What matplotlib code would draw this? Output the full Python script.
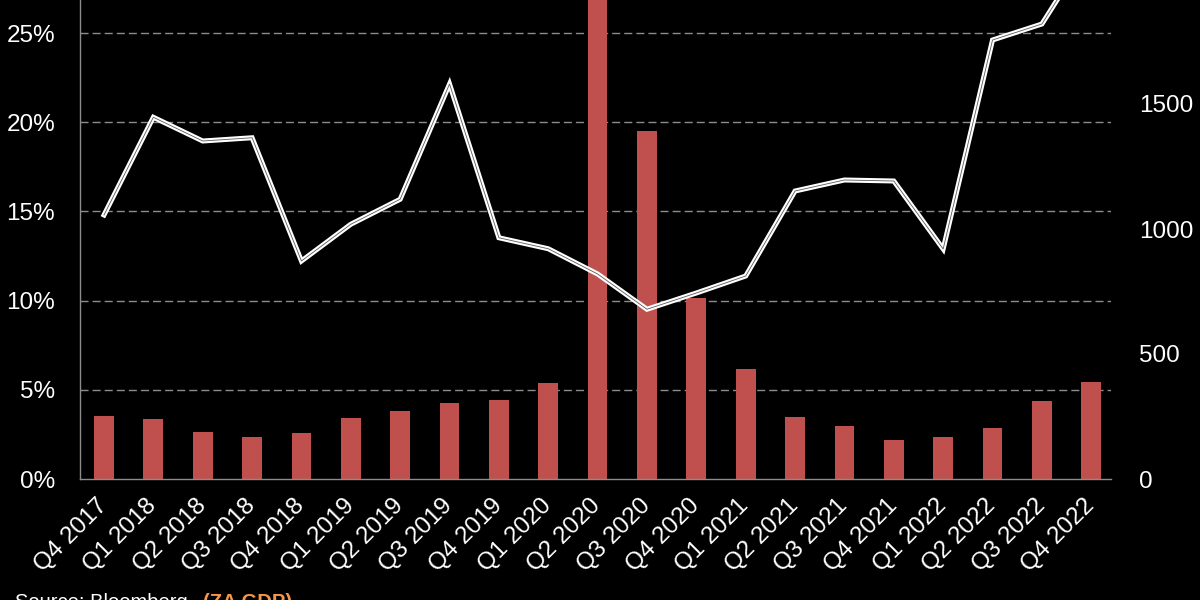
import matplotlib
matplotlib.use("Agg")
import matplotlib.pyplot as plt
import matplotlib.transforms as mtransforms
from matplotlib.ticker import FixedLocator, FuncFormatter

# ---- data ----
quarters = ["Q4 2017", "Q1 2018", "Q2 2018", "Q3 2018", "Q4 2018",
            "Q1 2019", "Q2 2019", "Q3 2019", "Q4 2019", "Q1 2020",
            "Q2 2020", "Q3 2020", "Q4 2020", "Q1 2021", "Q2 2021",
            "Q3 2021", "Q4 2021", "Q1 2022", "Q2 2022", "Q3 2022",
            "Q4 2022"]
bar_pct = [3.53, 3.36, 2.63, 2.35, 2.60, 3.40, 3.81, 4.26, 4.43, 5.40,
           30.0, 19.5, 10.15, 6.15, 3.46, 2.99, 2.19, 2.34, 2.86, 4.37,
           5.42]
line_vals = [1056, 1447, 1352, 1365, 872, 1019, 1119, 1580, 965, 921,
             820, 679, 744, 812, 1152, 1196, 1192, 920, 1756, 1820,
             2132]
left_ticks = [0, 5, 10, 15, 20, 25]
right_ticks = [0, 500, 1000, 1500]

FONT = "Liberation Sans"
plt.rcParams["font.family"] = [FONT, "DejaVu Sans"]

fig = plt.figure(figsize=(12, 6), dpi=100, facecolor="black")
ax = fig.add_axes([80 / 1200, 1 - 479 / 600, (1111 - 80) / 1200, 479 / 600])
ax.set_facecolor("black")
ax2 = ax.twinx()
ax2.set_facecolor("none")

x = list(range(len(quarters)))
ax.bar(x, bar_pct, width=0.4, color="#C0504D", zorder=3)
ax.set_xlim(-0.486, 20.4)
ax.set_ylim(0, 26.85)
ax2.set_ylim(0, 1916)

# gridlines
for t in left_ticks[1:]:
    ax.axhline(t, color="#8c8c8c", lw=1.0, linestyle=(0, (5.8, 2.9)), zorder=1)

# line (double white look)
ax2.plot(x, line_vals, color="white", lw=3.6, solid_joinstyle="miter", zorder=4)
ax2.plot(x, line_vals, color="#5a5a5a", lw=0.6, solid_joinstyle="miter", zorder=5)

# spines
for s in ["top", "right"]:
    ax.spines[s].set_visible(False)
for s in ax2.spines.values():
    s.set_visible(False)
for s in ["left", "bottom"]:
    ax.spines[s].set_color("#8c8c8c")
    ax.spines[s].set_linewidth(1.0)
    ax.spines[s].set_zorder(6)

ax.yaxis.set_major_locator(FixedLocator(left_ticks))
ax.yaxis.set_major_formatter(FuncFormatter(lambda v, p: f"{int(v)}%"))
ax.tick_params(axis="y", length=0, pad=18, labelsize=17.5, labelcolor="white")
ax2.yaxis.set_major_locator(FixedLocator(right_ticks))
ax2.tick_params(axis="y", length=0, pad=20, labelsize=17.5, labelcolor="white")

ax.set_xticks(x)
ax.set_xticklabels(quarters)
ax.tick_params(axis="x", length=0, pad=11, labelsize=17.5, labelcolor="white")
offset = mtransforms.ScaledTranslation(-8 / 100, 0, fig.dpi_scale_trans)
for lbl in ax.get_xticklabels():
    lbl.set_rotation(45)
    lbl.set_ha("right")
    lbl.set_va("top")
    lbl.set_rotation_mode("anchor")
    lbl.set_transform(lbl.get_transform() + offset)

fig.text(15 / 1200, -8 / 600, "Source: Bloomberg", color="white",
         fontsize=14.5, va="baseline", ha="left")
fig.text(203 / 1200, -8 / 600, "(ZA GDP)", color="#F79646",
         fontsize=14.5, va="baseline", ha="left", fontweight="bold")

fig.savefig("out.png", dpi=100, facecolor="black")
